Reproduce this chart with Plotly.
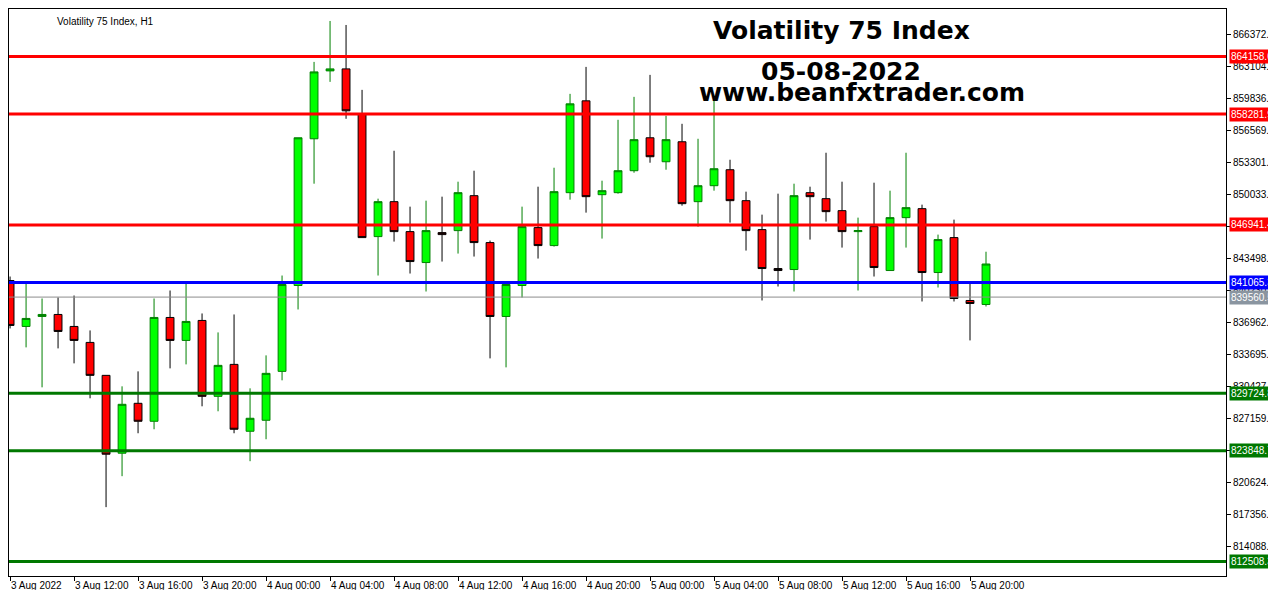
import plotly.graph_objects as go
import pandas as pd

times = pd.date_range("2022-08-03 08:00", periods=62, freq="h")
opens = [841256,836559,837580,837784,836559,834926,831557,823593,828698,826860,837478,835130,837172,829412,832679,825839,
         826962,831965,840745,855754,862697,862901,858307,845748,849322,846258,843093,846157,846361,849934,845136,837580,
         840745,846667,844829,850241,859634,850036,850241,852487,855856,853405,855448,849322,850955,852589,849424,846463,
         842481,842379,850241,849628,848402,846258,846769,842277,847688,848607,842072,845646,839214,838806]
highs = [841664,841051,839418,839520,839724,836151,831557,830433,831965,839418,840235,840949,837887,835947,837784,830229,
         833600,841766,855856,863616,867802,867394,860757,849628,854529,848811,849424,849832,851364,852487,845340,840847,
         848811,850853,852793,860349,863105,851466,857694,860042,862288,858102,857285,855754,859940,853609,850343,847994,
         850138,851160,850853,854325,851364,847688,851262,850445,854325,849016,845953,847484,841012,844202]
lows = [836355,834416,830331,834313,832782,829208,818077,821244,825635,826043,832271,832679,828391,827881,825635,822776,
        825022,831046,838294,851160,861574,857796,845646,841766,845238,841971,840133,843196,844012,843706,833292,832373,
        839520,843502,844727,849526,848199,845544,850138,852283,853303,852589,848913,846769,850445,847178,844319,839214,
        840643,840133,845442,847280,844625,840235,841664,842277,844625,839111,840541,839111,835130,838602]
closes = [836661,837376,837784,836048,835130,831557,823491,828596,826860,837478,835130,837070,829412,832577,826043,827166,
          831761,840847,855856,862594,862901,858613,845646,849322,846258,843196,846361,845953,850241,845136,837580,840847,
          846769,844829,850343,859328,849832,850445,852487,855662,853916,855662,849117,850955,852691,849424,846361,842481,
          842277,849934,849832,848300,846258,846361,842583,847688,848709,842072,845442,839418,838908,842944]

ytick_vals = [866372.10,863104.40,859836.70,856569.00,853301.30,850033.60,846765.90,843498.20,840230.50,836962.80,
              833695.10,830427.40,827159.70,823892.00,820624.30,817356.60,814088.90]
xtick_text = ["3 Aug 2022","3 Aug 12:00","3 Aug 16:00","3 Aug 20:00","4 Aug 00:00","4 Aug 04:00","4 Aug 08:00",
              "4 Aug 12:00","4 Aug 16:00","4 Aug 20:00","5 Aug 00:00","5 Aug 04:00","5 Aug 08:00","5 Aug 12:00",
              "5 Aug 16:00","5 Aug 20:00"]
xtick_times = pd.date_range("2022-08-03 08:00", periods=16, freq="4h")

levels = [864158.01, 858281.91, 846941.44, 841065.34, 829724.87, 823848.77, 812508.30]
level_colors = ["#ff0000","#ff0000","#ff0000","#0000ff","#007800","#007800","#007800"]
bid = 839560.56

FONT = "Liberation Sans"
fig = go.Figure(go.Candlestick(
    x=times, open=opens, high=highs, low=lows, close=closes,
    increasing=dict(fillcolor="#00ff00", line=dict(color="#008000", width=1)),
    decreasing=dict(fillcolor="#ff0000", line=dict(color="#000000", width=1)),
    whiskerwidth=0, showlegend=False, hoverinfo="skip"))

for lv, c in zip(levels, level_colors):
    fig.add_hline(y=lv, line=dict(color=c, width=3))
    fig.add_annotation(x=1, xref="paper", y=lv, yref="y", xanchor="left", yanchor="middle",
                       text=f"{lv:.2f}", showarrow=False, bgcolor=c, xshift=3,
                       font=dict(color="white", size=10, family=FONT), borderpad=1)
fig.add_hline(y=bid, line=dict(color="#8c8c8c", width=1))
fig.add_annotation(x=1, xref="paper", y=bid, yref="y", xanchor="left", yanchor="middle",
                   text=f"{bid:.2f}", showarrow=False, bgcolor="#8a95a0", xshift=3,
                   font=dict(color="white", size=10, family=FONT), borderpad=1)

for txt, xc, yt in [("Volatility 75 Index", 832, 5), ("05-08-2022", 832, 46), ("www.beanfxtrader.com", 853, 67)]:
    fig.add_annotation(x=xc/1217, xref="paper", y=1 - yt/568, yref="paper", showarrow=False,
                       text=f"<b>{txt}</b>", font=dict(size=25, color="black", family="DejaVu Sans"),
                       xanchor="center", yanchor="top")
fig.add_annotation(x=46/1217, xref="paper", y=1 - 5/568, yref="paper", showarrow=False,
                   text="Volatility 75 Index, H1", font=dict(size=10, color="black", family=FONT),
                   xanchor="left", yanchor="top")

fig.update_layout(
    width=1276, height=590, margin=dict(l=1, r=58, t=1, b=22, autoexpand=False),
    paper_bgcolor="white", plot_bgcolor="white",
    xaxis=dict(rangeslider=dict(visible=False), range=[times[0] - pd.Timedelta(minutes=4), times[0] + pd.Timedelta(hours=76)],
               tickvals=xtick_times, ticktext=xtick_text, ticks="outside", ticklen=4, tickcolor="black",
               tickangle=0, automargin=False,
               ticklabelposition="outside right", showgrid=False, showline=True, linecolor="black", mirror=True,
               tickfont=dict(size=10, family=FONT, color="black")),
    yaxis=dict(side="right", range=[811034, 869027], tickvals=ytick_vals, ticktext=[f"{v:.2f}" for v in ytick_vals],
               ticks="outside", ticklen=4, tickcolor="black", showgrid=False, showline=True, linecolor="black",
               mirror=True, automargin=False, tickfont=dict(size=10, family=FONT, color="black")),
)
fig.write_html("out.html")
